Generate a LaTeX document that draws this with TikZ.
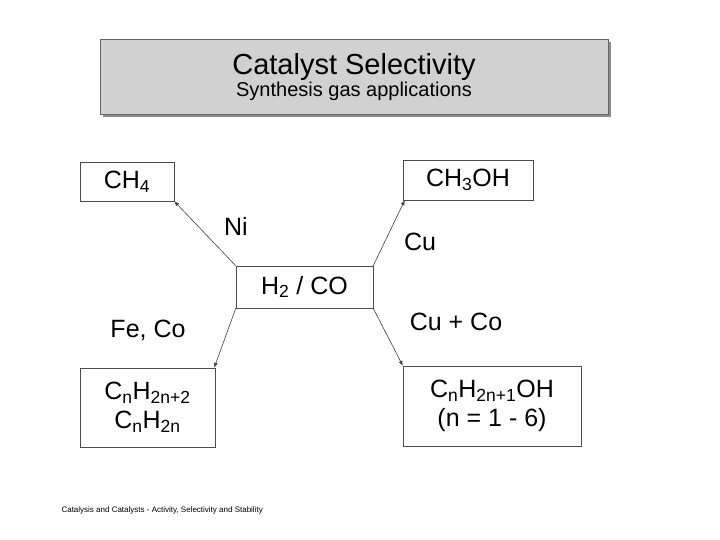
\documentclass[tikz,border=0pt]{standalone}
\usepackage{fontspec}
\setmainfont{Liberation Sans}
\usetikzlibrary{arrows.meta,positioning,shadows}
\newcommand{\sbs}[1]{\textsubscript{#1}}
\begin{document}
\begin{tikzpicture}[x=1pt,y=-1pt]
	\tikzset{
		box/.style={draw=black!70, fill=white, inner sep=0pt, font=\fontsize{25}{29}\selectfont, align=center},
		link/.style={-{Latex[length=5pt,width=4pt]}, draw=black!75, semithick},
		lbl/.style={font=\fontsize{25}{29}\selectfont}
	}
	\useasboundingbox (0,0) rectangle (720,540);

	% Title
	\node[draw=black!60, fill=black!18, minimum width=508pt, minimum height=75pt,
		align=center, drop shadow={shadow xshift=3pt, shadow yshift=-3pt, fill=black!45, opacity=1},
		inner sep=0pt] (title) at (354,77)
		{\fontsize{29}{34}\selectfont Catalyst Selectivity\\\fontsize{20}{22}\selectfont Synthesis gas applications};

	% Nodes
	\node[box, minimum width=137pt, minimum height=42pt] (syn) at (304.5,287) {H\sbs{2} / CO};
	\node[box, minimum width=94pt, minimum height=39pt] (meth) at (127,181.5) {CH\sbs{4}};
	\node[box, minimum width=130pt, minimum height=40pt] (mol) at (468,180) {CH\sbs{3}OH};
	\node[box, minimum width=135pt, minimum height=79pt] (hc) at (147.5,407.5) {C\sbs{n}H\sbs{2n+2}\\C\sbs{n}H\sbs{2n}};
	\node[box, minimum width=178pt, minimum height=80pt] (alc) at (492,406) {C\sbs{n}H\sbs{2n+1}OH\\(n = 1 - 6)};

	% Connectors
	\draw[link] (syn.north west) -- (meth.south east);
	\draw[link] (syn.north east) -- ([xshift=2pt]mol.south west);
	\draw[link] (syn.south west) -- ([xshift=-1pt]hc.north east);
	\draw[link] (syn.south east) -- (alc.north west);

	% Labels
	\node[lbl] (ni) at (236,226) {Ni};
	\node[lbl] (cu) at (420,242) {Cu};
	\node[lbl] (feco) at (148,330) {Fe, Co};
	\node[lbl] (cuco) at (456,322) {Cu + Co};

	% Footer
	\node[anchor=west, font=\fontsize{8}{9}\selectfont] (foot) at (58,510)
		{Catalysis and Catalysts - Activity, Selectivity and Stability};
\end{tikzpicture}
\end{document}
